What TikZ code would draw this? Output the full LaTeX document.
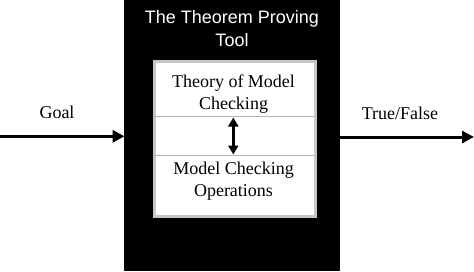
\documentclass[tikz,border=0pt]{standalone}
\usepackage{fontspec}
\setmainfont{Liberation Serif}
\newfontfamily\titlefont{Liberation Sans}
\usetikzlibrary{arrows.meta}
\begin{document}
\begin{tikzpicture}[x=1pt,y=-1pt,
  serif/.style={font=\fontsize{18}{22}\selectfont, align=center, inner sep=0pt},
  flow/.style={line width=3pt, -{Triangle[length=12pt,width=12pt]}},
  gborder/.style={draw=black!22, line width=3pt, fill=white},
  sep/.style={draw=black!30, line width=1pt}]
\useasboundingbox (0,0) rectangle (474,271);
\fill[white] (0,0) rectangle (474,271);
\node[fill=black, minimum width=216pt, minimum height=271pt, inner sep=0pt, anchor=north west] (tool) at (124,0) {};
\node[white, font=\titlefont\fontsize{18}{23.4}\selectfont, align=center, inner sep=0pt, anchor=base] (title) at (232,46.7) {The Theorem Proving\\Tool};
\node[gborder, minimum width=161pt, minimum height=154.7pt, inner sep=0pt, anchor=north west] (inner) at (153.2,59.8) {};
\coordinate (s1l) at (153.2,116.7); \coordinate (s1r) at (314.2,116.7);
\coordinate (s2l) at (153.2,155); \coordinate (s2r) at (314.2,155);
\draw[sep] (s1l) -- (s1r);
\draw[sep] (s2l) -- (s2r);
\node[serif, anchor=base] (theory) at (233.5,109) {Theory of Model\\Checking};
\node[serif, anchor=base] (ops) at (233.5,196) {Model Checking\\Operations};
\coordinate (a1) at (233.3,117.5);
\coordinate (a2) at (233.3,154.5);
\draw[line width=2.5pt, {Triangle[length=9pt,width=10pt]}-{Triangle[length=9pt,width=10pt]}] (a1) -- (a2);
\coordinate (gstart) at (0,136.3);
\coordinate (gend) at (124.5,136.3);
\draw[flow] (gstart) -- (gend);
\node[serif, anchor=base] (goal) at (57,118.3) {Goal};
\coordinate (tstart) at (340,137);
\coordinate (tend) at (474,137);
\draw[flow] (tstart) -- (tend);
\node[serif, anchor=base] (tf) at (400,119.3) {True/False};
\end{tikzpicture}
\end{document}
